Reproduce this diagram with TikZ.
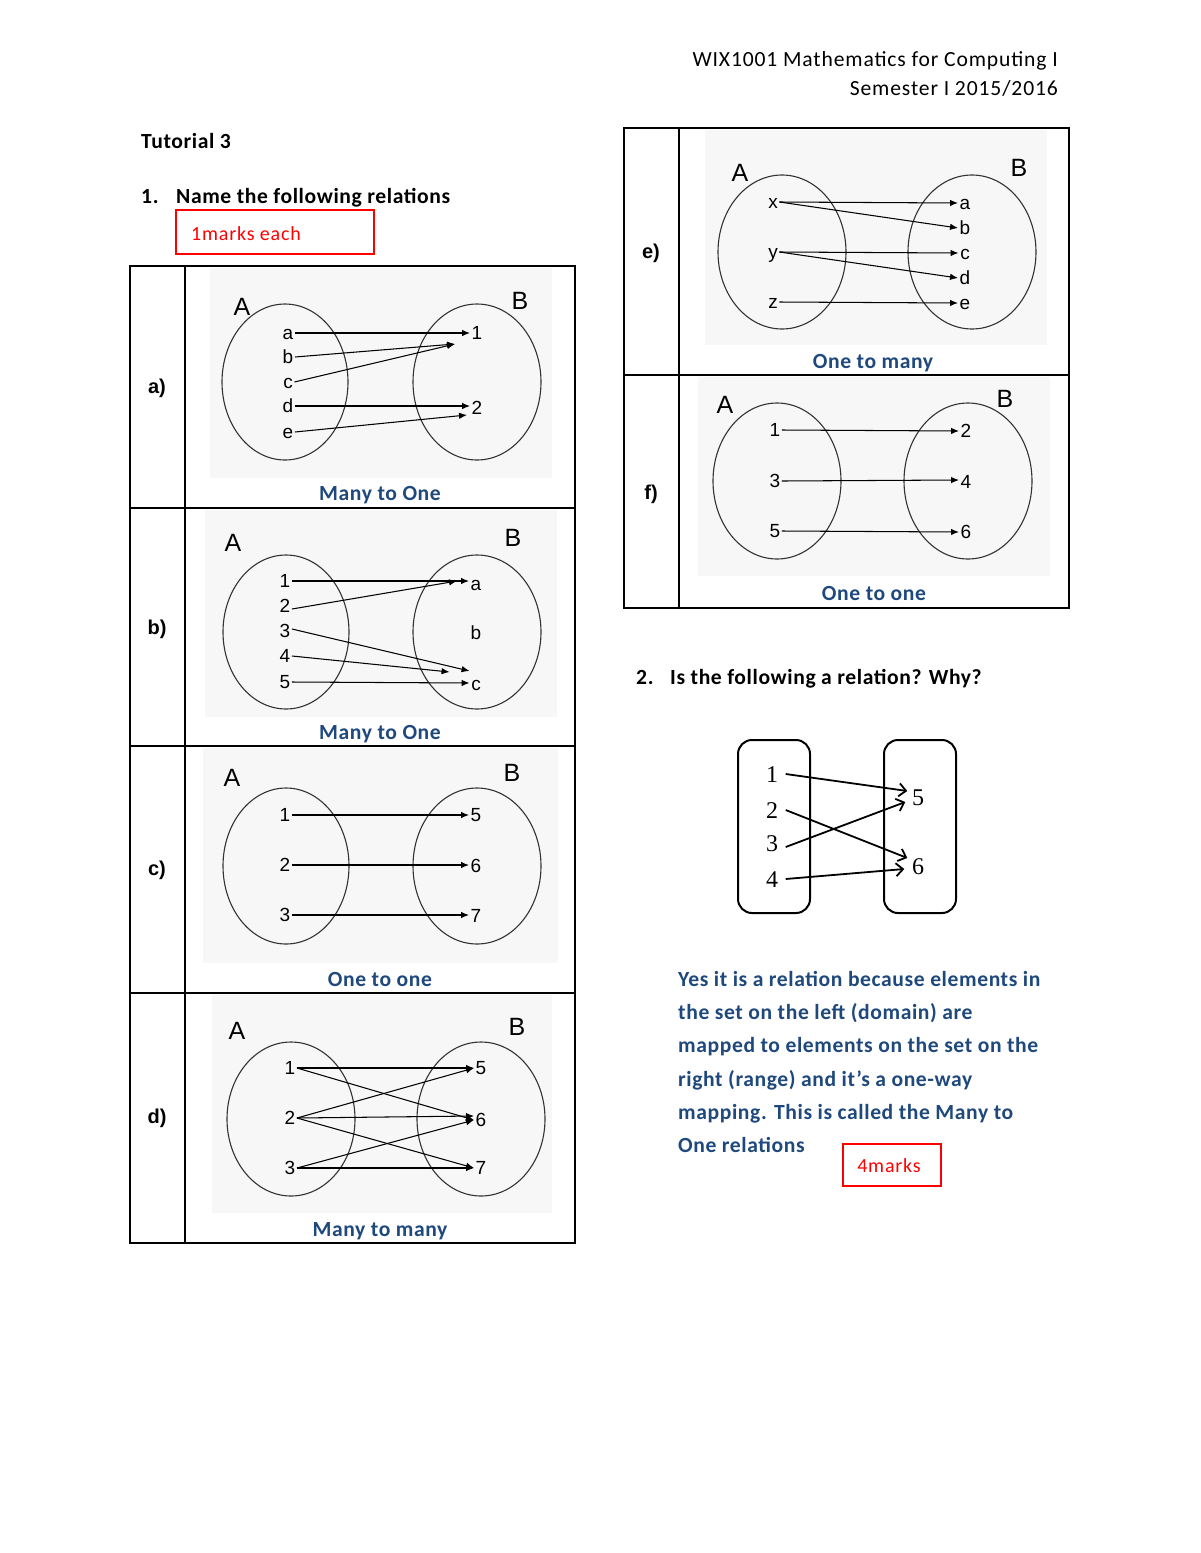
\documentclass[tikz,border=0pt]{standalone}
\usepackage{fontspec}
\setmainfont{Carlito}[LetterSpace=4, BoldFeatures={LetterSpace=2.8}]
\newfontfamily\arialf{Liberation Sans}
\newfontfamily\timesf{Liberation Serif}
\usetikzlibrary{arrows.meta,calc}
\definecolor{capblue}{HTML}{1F497D}
\definecolor{mred}{HTML}{FF0000}
\definecolor{imgbg}{HTML}{F7F7F7}
\tikzset{
  body/.style={font=\fontsize{21.6}{26}\selectfont, inner sep=0pt, anchor=base west},
  bodyb/.style={body, font=\fontsize{21.6}{26}\selectfont\bfseries},
  bodyr/.style={font=\fontsize{21.6}{26}\selectfont, inner sep=0pt, anchor=base east},
  ans/.style={bodyb, text=capblue},
  marktext/.style={body, text=mred, font=\fontsize{20}{24}\selectfont},
  captext/.style={font=\fontsize{21.6}{26}\selectfont\bfseries, text=capblue, inner sep=0pt, anchor=base},
  rowlbl/.style={font=\arialf\bfseries\fontsize{20}{24}\selectfont, inner sep=0pt},
  setlbl/.style={font=\arialf\fontsize{25}{30}\selectfont, inner sep=0pt},
  el/.style={font=\arialf\fontsize{19}{22}\selectfont, inner sep=1.5pt, text height=13.5pt, text depth=0pt},
  setell/.style={draw=black!80, line width=1.1pt},
  arr/.style={line width=1.05pt, -{Latex[length=8pt,width=6.5pt]}},
  tbl/.style={line width=1.3pt},
  bg/.style={fill=imgbg, draw=none},
  redbox/.style={draw=mred, line width=2pt},
  qel/.style={font=\timesf\fontsize{24}{28}\selectfont, inner sep=1.5pt, text height=16pt, text depth=0pt},
  qbox/.style={draw, line width=2pt, rounded corners=14pt, minimum width=72pt, minimum height=173pt, inner sep=0pt},
  qarr/.style={line width=1.8pt, -{Straight Barb[length=7pt,width=13pt,line width=1.8pt]}},
}
\begin{document}
\begin{tikzpicture}[x=1pt,y=-1pt]
\useasboundingbox (0,0) rectangle (1200,1553);
\fill[white] (0,0) rectangle (1200,1553);

% ---------- header ----------
\node[bodyr] (h1) at (1058,66) {WIX1001 Mathematics for Computing I};
\node[bodyr] (h2) at (1058,95) {Semester I 2015/2016};
\node[bodyb] (tut) at (141,148) {Tutorial 3};
\node[bodyb] (q1n) at (141,203) {1.};
\node[bodyb] (q1) at (176,203) {Name the following relations};
\draw[redbox] (176,210) rectangle (374,254);
\node[marktext] (m1) at (191,240) {1marks each};

% ---------- image backgrounds ----------
\fill[bg] (210,268) rectangle (552,478);
\fill[bg] (205,510) rectangle (557,717);
\fill[bg] (203,748) rectangle (558,963);
\fill[bg] (212,995) rectangle (552,1213);
\fill[bg] (705,130) rectangle (1047,345);
\fill[bg] (698,377) rectangle (1050,576);

% ---------- left table ----------
\draw[tbl] (130,266) rectangle (575,1243);
\draw[tbl] (185,266) -- (185,1243);
\draw[tbl] (130,508) -- (575,508);
\draw[tbl] (130,746) -- (575,746);
\draw[tbl] (130,993) -- (575,993);
\node[rowlbl] (ra) at (157,388) {a)};
\node[rowlbl] (rb) at (157,629) {b)};
\node[rowlbl] (rc) at (157,870) {c)};
\node[rowlbl] (rd) at (157,1118) {d)};

% ---------- right table ----------
\draw[tbl] (624,128) rectangle (1069,608);
\draw[tbl] (679,128) -- (679,608);
\draw[tbl] (624,375) -- (1069,375);
\node[rowlbl] (re) at (651,253) {e)};
\node[rowlbl] (rf) at (651,494) {f)};

% ---------- diagram a ----------
\draw[setell] (285,382) ellipse [x radius=63, y radius=78];
\draw[setell] (477,382) ellipse [x radius=64, y radius=78];
\node[setlbl] (aA) at (242,307) {A};
\node[setlbl] (aB) at (520,301) {B};
\node[el] (aa) at (288,333) {a};
\node[el] (ab) at (288,357) {b};
\node[el] (ac) at (288,382) {c};
\node[el] (ad) at (288,406) {d};
\node[el] (ae) at (288,432) {e};
\node[el] (a1) at (477,333) {1};
\node[el] (a2) at (477,408) {2};
\draw[arr] (aa.east) -- (a1.west);
\draw[arr] (ab.east) -- ([xshift=-15pt,yshift=-11pt]a1.west);
\draw[arr] (ac.east) -- ([xshift=-15pt,yshift=-11pt]a1.west);
\draw[arr] (ad.east) -- ([yshift=2pt]a2.west);
\draw[arr] (ae.east) -- ([xshift=-3pt,yshift=-7pt]a2.west);
\node[captext] (capa) at (380,500) {Many to One};

% ---------- diagram b ----------
\draw[setell] (286,632) ellipse [x radius=63, y radius=77];
\draw[setell] (477,632) ellipse [x radius=64, y radius=77];
\node[setlbl] (bA) at (233,543) {A};
\node[setlbl] (bB) at (513,538) {B};
\node[el] (b1) at (285,581) {1};
\node[el] (b2) at (285,606) {2};
\node[el] (b3) at (285,631) {3};
\node[el] (b4) at (285,656) {4};
\node[el] (b5) at (285,682) {5};
\node[el] (ba) at (476,584) {a};
\node[el] (bb) at (476,633) {b};
\node[el] (bc) at (476,684) {c};
\draw[arr] (b1.east) -- ([yshift=3pt]ba.west);
\draw[arr] ([yshift=-3pt]b2.east) -- ([xshift=-12pt,yshift=3pt]ba.west);
\draw[arr] ([yshift=2pt]b3.east) -- ([yshift=13pt]bc.west);
\draw[arr] (b4.east) -- ([xshift=-20pt,yshift=12pt]bc.west);
\draw[arr] (b5.east) -- ([yshift=1pt]bc.west);
\node[captext] (capb) at (380,739) {Many to One};

% ---------- diagram c ----------
\draw[setell] (286,866) ellipse [x radius=63, y radius=78];
\draw[setell] (477,866) ellipse [x radius=64, y radius=78];
\node[setlbl] (cA) at (232,778) {A};
\node[setlbl] (cB) at (512,773) {B};
\node[el] (c1) at (285,815) {1};
\node[el] (c2) at (285,865) {2};
\node[el] (c3) at (285,915) {3};
\node[el] (c5) at (476,815) {5};
\node[el] (c6) at (476,866) {6};
\node[el] (c7) at (476,916) {7};
\draw[arr] (c1.east) -- (c5.west);
\draw[arr] (c2.east) -- ([yshift=1pt]c6.west);
\draw[arr] (c3.east) -- ([yshift=1pt]c7.west);
\node[captext] (capc) at (380,986) {One to one};

% ---------- diagram d ----------
\draw[setell] (291,1119) ellipse [x radius=64, y radius=77];
\draw[setell] (481,1119) ellipse [x radius=64, y radius=77];
\node[setlbl] (dA) at (237,1031) {A};
\node[setlbl] (dB) at (517,1027) {B};
\node[el] (d1) at (290,1068) {1};
\node[el] (d2) at (290,1118) {2};
\node[el] (d3) at (290,1168) {3};
\node[el] (d5) at (481,1068) {5};
\node[el] (d6) at (481,1120) {6};
\node[el] (d7) at (481,1168) {7};
\draw[arr] (d1.east) -- (d5.west);
\draw[arr] (d1.east) -- (d6.west);
\draw[arr] (d2.east) -- (d5.west);
\draw[arr] (d2.east) -- ([yshift=4pt]d6.west);
\draw[arr] (d2.east) -- (d7.west);
\draw[arr] (d3.east) -- (d6.west);
\draw[arr] (d3.east) -- (d7.west);
\node[captext] (capd) at (380,1236) {Many to many};

% ---------- diagram e ----------
\draw[setell] (782,252) ellipse [x radius=64, y radius=77];
\draw[setell] (972,252) ellipse [x radius=64, y radius=77];
\node[setlbl] (eA) at (740,173) {A};
\node[setlbl] (eB) at (1019,168) {B};
\node[el] (ex) at (773,202) {x};
\node[el] (ey) at (773,252) {y};
\node[el] (ez) at (773,302) {z};
\node[el] (ea) at (965,203) {a};
\node[el] (eb) at (965,228) {b};
\node[el] (ec) at (965,253) {c};
\node[el] (ed) at (965,278) {d};
\node[el] (ee) at (965,303) {e};
\draw[arr] (ex.east) -- (ea.west);
\draw[arr] (ex.east) -- (eb.west);
\draw[arr] (ey.east) -- (ec.west);
\draw[arr] (ey.east) -- (ed.west);
\draw[arr] (ez.east) -- (ee.west);
\node[captext] (cape) at (873,368) {One to many};

% ---------- diagram f ----------
\draw[setell] (777,481) ellipse [x radius=64, y radius=78];
\draw[setell] (968,481) ellipse [x radius=64, y radius=78];
\node[setlbl] (fA) at (725,405) {A};
\node[setlbl] (fB) at (1005,399) {B};
\node[el] (f1) at (775,430) {1};
\node[el] (f3) at (775,481) {3};
\node[el] (f5) at (775,531) {5};
\node[el] (f2) at (966,431) {2};
\node[el] (f4) at (966,482) {4};
\node[el] (f6) at (966,532) {6};
\draw[arr] (f1.east) -- (f2.west);
\draw[arr] (f3.east) -- ([yshift=2pt]f4.west);
\draw[arr] (f5.east) -- (f6.west);
\node[captext] (capf) at (874,600) {One to one};

% ---------- question 2 ----------
\node[bodyb] (q2n) at (636,684) {2.};
\node[bodyb] (q2) at (670,684) {Is the following a relation? Why?};
\node[qbox] (qL) at (774,826.5) {};
\node[qbox] (qR) at (920,826.5) {};
\node[qel] (l1) at (772,774) {1};
\node[qel] (l2) at (772,810) {2};
\node[qel] (l3) at (772,843) {3};
\node[qel] (l4) at (772,879) {4};
\node[qel] (r5) at (918,797) {5};
\node[qel] (r6) at (918,866) {6};
\draw[qarr] ([xshift=6pt]l1.east) -- ([xshift=-3pt,yshift=6pt]r5.west);
\draw[qarr] ([xshift=6pt,yshift=-4pt]l3.east) -- ([xshift=-5pt,yshift=-5pt]r5.west);
\draw[qarr] ([xshift=6pt]l2.east) -- ([xshift=-3pt,yshift=8pt]r6.west);
\draw[qarr] ([xshift=6pt]l4.east) -- ([xshift=-6pt,yshift=-3pt]r6.west);

% ---------- answer ----------
\node[ans] (t1) at (678,986) {Yes it is a relation because elements in};
\node[ans] (t2) at (678,1019) {the set on the left (domain) are};
\node[ans] (t3) at (678,1052) {mapped to elements on the set on the};
\node[ans] (t4) at (678,1086) {right (range) and it’s a one-way};
\node[ans] (t5) at (678,1119) {mapping. This is called the Many to};
\node[ans] (t6) at (678,1152) {One relations};
\draw[redbox] (843,1144) rectangle (941,1186);
\node[marktext, anchor=base] (m4) at (889,1172) {4marks};
\end{tikzpicture}
\end{document}
